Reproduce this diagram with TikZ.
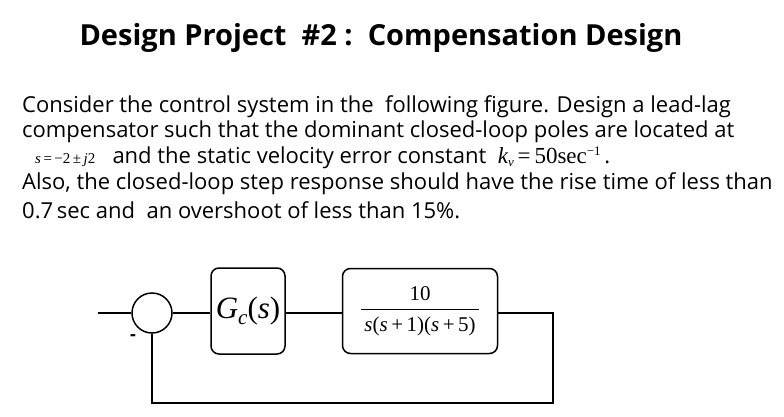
\documentclass[tikz,border=0pt]{standalone}
\usepackage{fontspec}
\setmainfont{Open Sans}
\newfontfamily\mathser{Liberation Serif}
\usetikzlibrary{positioning}
\tikzset{
  txt/.style={anchor=west, inner sep=0pt, font=\fontsize{22}{25}\selectfont},
  block/.style={draw, line width=1.5pt, rounded corners=8pt},
  sumnode/.style={draw, circle, line width=1.5pt, minimum size=40pt, inner sep=0pt},
  line/.style={draw, line width=1.5pt}
}
\begin{document}
\begin{tikzpicture}[x=1pt, y=-1pt]
  \useasboundingbox (0,0) rectangle (784,417);
  % Title and text
  \node [anchor=center, inner sep=0pt, font=\fontsize{29}{32}\selectfont\bfseries] (title) at (381,38) {Design Project~~\#2 :~~Compensation Design};
  \node [txt] (l1) at (22,107) {Consider the control system in the~~following figure. Design a lead-lag};
  \node [txt] (l2) at (22,132) {compensator such that the dominant closed-loop poles are located at};
  \node [txt] (l3) at (35,158) {{\mathser\fontsize{15}{16}\selectfont\itshape s\upshape\,=\,−2\,±\,\itshape j\upshape2}~~~and the static velocity error constant~~{\mathser\fontsize{23}{24}\selectfont\itshape k\raisebox{-3pt}{\fontsize{13}{13}\selectfont v}\upshape\,=\,50sec\raisebox{8pt}{\fontsize{13}{13}\selectfont −1}}\,.};
  \node [txt] (l4) at (22,184) {Also, the closed-loop step response should have the rise time of less than};
  \node [txt] (l5) at (22,210) {0.7\,sec and~~an overshoot of less than 15\%.};
  % Block diagram
  \node [sumnode] (sum) at (152,313) {};
  \node [block, minimum width=74pt, minimum height=86pt] (gc) at (248,311) {\mathser\fontsize{31}{33}\selectfont\itshape G\raisebox{-6pt}{\fontsize{21}{21}\selectfont c}\upshape(\itshape s\upshape)};
  \node [block, minimum width=155pt, minimum height=85pt] (plant) at (420,311) {\mathser\fontsize{21}{24}\selectfont\begin{tabular}{@{\,}c@{\,}}10\\[2pt]\hline\rule{0pt}{22pt}\itshape s\upshape(\itshape s\upshape\,+\,1)(\itshape s\upshape\,+\,5)\end{tabular}};
  \coordinate (in) at (98,313);
  \coordinate (outc) at (553,313);
  \node [inner sep=0pt, font=\bfseries\fontsize{18}{18}\selectfont] (minus) at (133,338) {-};
  \path [line] (in) -- (sum.west);
  \path [line] (sum.east) -- (gc.west |- sum.east);
  \path [line] (gc.east |- sum.east) -- (plant.west |- sum.east);
  \path [line] (plant.east |- sum.east) -- (outc) |- (152,403) -- (sum.south);
\end{tikzpicture}
\end{document}
